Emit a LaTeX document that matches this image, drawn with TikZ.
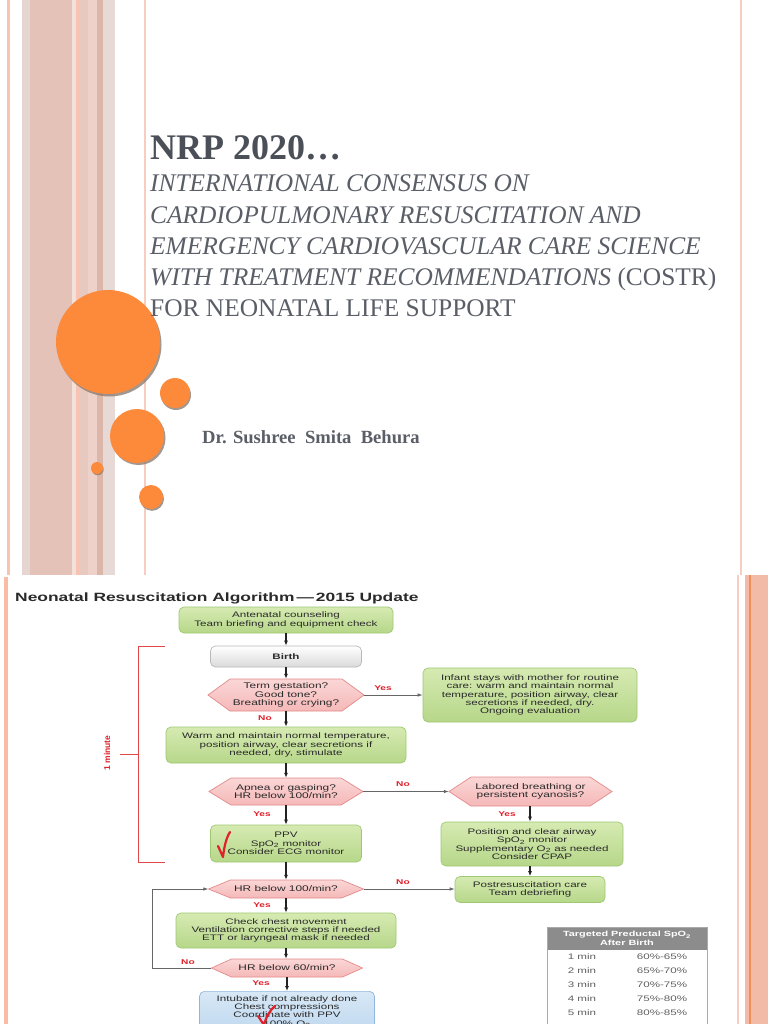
\documentclass[tikz,border=0pt]{standalone}
\usepackage{fontspec}
\setmainfont{Liberation Serif}
\newfontfamily\flow[FakeStretch=1.45]{Liberation Sans}
\newfontfamily\flowplain{Liberation Sans}
\usetikzlibrary{arrows.meta,calc}
\definecolor{stripeA}{HTML}{F8C3B0}
\definecolor{bandA}{HTML}{E6D6D1}
\definecolor{bandB}{HTML}{E4C2B7}
\definecolor{bandC}{HTML}{F3E1DA}
\definecolor{bandD}{HTML}{F7C4B4}
\definecolor{bandE}{HTML}{E8C9C0}
\definecolor{bandF}{HTML}{EED2C9}
\definecolor{bandG}{HTML}{DDB6AA}
\definecolor{bandH}{HTML}{E7D9D5}
\definecolor{paleline}{HTML}{F6CDBF}
\definecolor{salm}{HTML}{F1BBA7}
\definecolor{salmbar}{HTML}{FBBCA6}
\definecolor{orline}{HTML}{F08E5C}
\definecolor{circ}{HTML}{FD8A3A}
\definecolor{circsh}{HTML}{8C7D74}
\definecolor{titlec}{HTML}{4B4F58}
\definecolor{subc}{HTML}{5A5E67}
\definecolor{txt}{HTML}{2A2A2A}
\definecolor{grnb}{HTML}{9FC873}
\definecolor{grnt}{HTML}{D6EAB2}
\definecolor{grnbot}{HTML}{B6D789}
\definecolor{grayb}{HTML}{B8B8B8}
\definecolor{grayf}{HTML}{DADADA}
\definecolor{blueb}{HTML}{8FB6DC}
\definecolor{bluet}{HTML}{D8E8F6}
\definecolor{bluebot}{HTML}{BFD8EF}
\definecolor{hexb}{HTML}{E48A8A}
\definecolor{hext}{HTML}{FBD6D6}
\definecolor{hexbot}{HTML}{F5B8B8}
\definecolor{redl}{HTML}{E0202A}
\definecolor{brk}{HTML}{E04848}
\definecolor{arrowdark}{HTML}{222222}
\definecolor{arrowgray}{HTML}{666666}
\definecolor{tabhead}{HTML}{8C8C8C}
\definecolor{tabline}{HTML}{AAAAAA}
\definecolor{tabtxt}{HTML}{606060}
\newcommand{\hexnode}[7]{%
  \draw[hexline] ({#2-#4/2},#3) -- ({#2-#4/2+#6},{#3-#5/2}) -- ({#2+#4/2-#6},{#3-#5/2}) -- ({#2+#4/2},#3) -- ({#2+#4/2-#6},{#3+#5/2}) -- ({#2-#4/2+#6},{#3+#5/2}) -- cycle;
  \node[hextext, minimum width=#4, minimum height=#5] (#1) at (#2,#3) {#7};
}
\begin{document}
\begin{tikzpicture}[x=1pt,y=-1pt,
  box/.style={rounded corners=5pt, line width=0.7pt, align=center, inner sep=0pt, font=\flow\fontsize{8}{8.3}\selectfont, text=txt},
  greenbox/.style={box, draw=grnb, top color=grnt, bottom color=grnbot},
  graybox/.style={box, draw=grayb, top color=white, bottom color=grayf},
  bluebox/.style={box, draw=blueb, top color=bluet, bottom color=bluebot},
  hexline/.style={draw=hexb, line width=0.7pt, top color=hext, bottom color=hexbot},
  hextext/.style={align=center, inner sep=0pt, font=\flow\fontsize{8.2}{8.4}\selectfont, text=txt},
  lbl/.style={font=\flow\bfseries\fontsize{7}{8}\selectfont, text=redl, inner sep=0pt},
  varrow/.style={-{Latex[length=5pt,width=4pt]}, line width=1.1pt, draw=arrowdark},
  harrow/.style={-{Latex[length=5pt,width=3.5pt]}, line width=0.7pt, draw=arrowgray},
  checkm/.style={draw=redl, line width=2.2pt, line cap=round, line join=round},
  tabt/.style={font=\flow\fontsize{8}{9}\selectfont, text=tabtxt, inner sep=0pt},
  orb/.style={fill=circ},
  orbsh/.style={fill=circsh, opacity=0.8},
  titl/.style={anchor=base west, inner sep=0pt}
]
\useasboundingbox (0,0) rectangle (768,1024);
\fill[white] (0,0) rectangle (768,1024);
% ---------- top slide ----------
\fill[stripeA] (7,0) rectangle (10,575);
\fill[bandA] (22,0) rectangle (30,575);
\fill[bandB] (30,0) rectangle (72,575);
\fill[bandC] (72,0) rectangle (76,575);
\fill[bandD] (76,0) rectangle (80,575);
\fill[bandE] (80,0) rectangle (88,575);
\fill[bandF] (88,0) rectangle (97,575);
\fill[bandG] (97,0) rectangle (103,575);
\fill[bandH] (103,0) rectangle (115,575);
\fill[paleline] (144,0) rectangle (146,575);
\fill[paleline] (740,0) rectangle (741.5,575);
% circles
\fill[orbsh] (109.5,344.5) circle (52);
\fill[orb] (108,342) circle (52);
\fill[orbsh] (176,395) circle (15);
\fill[orb] (175,393) circle (15);
\fill[orbsh] (138.5,438) circle (27);
\fill[orb] (137,436) circle (27);
\fill[orbsh] (97.7,469.3) circle (6);
\fill[orb] (97,468) circle (6);
\fill[orbsh] (152,498.8) circle (12);
\fill[orb] (151,497) circle (12);
% title texts
\node[titl, text=titlec, font=\bfseries\fontsize{36}{40}\selectfont] (t0) at (150,160) {NRP 2020\ldots};
\node[titl, text=subc, font=\itshape\fontsize{25.4}{30}\selectfont] (t1) at (150,192) {INTERNATIONAL CONSENSUS ON};
\node[titl, text=subc, font=\itshape\fontsize{25.4}{30}\selectfont] (t2) at (150,223) {CARDIOPULMONARY RESUSCITATION AND};
\node[titl, text=subc, font=\itshape\fontsize{25.4}{30}\selectfont] (t3) at (150,254) {EMERGENCY CARDIOVASCULAR CARE SCIENCE};
\node[titl, text=subc, font=\fontsize{25.4}{30}\selectfont] (t4) at (150,285) {\textit{WITH TREATMENT RECOMMENDATIONS} (COSTR)};
\node[titl, text=subc, font=\fontsize{25.4}{30}\selectfont] (t5) at (150,316) {FOR NEONATAL LIFE SUPPORT};
\node[titl, text=subc, font=\bfseries\fontsize{18.6}{22}\selectfont] (author) at (202,443) {Dr. Sushree\ \ Smita\ \ Behura};
% ---------- bottom slide ----------
\fill[salmbar] (4,577) rectangle (8,1024);
\fill[paleline] (737,575) rectangle (738.5,1024);
\fill[salm] (745,575) rectangle (768,1024);
\fill[orline] (749,575) rectangle (751,1024);
\node[titl, font=\flow\bfseries\fontsize{12}{14}\selectfont, text=txt] (ftitle) at (15,601) {Neonatal Resuscitation Algorithm\,—\,2015 Update};
% main column
\node[greenbox, minimum width=214, minimum height=26] (ante) at (286,620) {Antenatal counseling\\Team briefing and equipment check};
\node[graybox, minimum width=151, minimum height=21, font=\flow\bfseries\fontsize{8}{8.3}\selectfont] (birth) at (286,656.5) {Birth};
\hexnode{h1}{286}{695}{156}{32}{22}{Term gestation?\\Good tone?\\Breathing or crying?}
\node[greenbox, minimum width=240, minimum height=36] (warm) at (286,745) {Warm and maintain normal temperature,\\position airway, clear secretions if\\needed, dry, stimulate};
\hexnode{h2}{286}{791.5}{154}{27}{22}{Apnea or gasping?\\HR below 100/min?}
\node[greenbox, minimum width=151, minimum height=37] (ppv) at (286,843.5) {PPV\\SpO\textsubscript{2} monitor\\Consider ECG monitor};
\hexnode{h4}{286}{889}{155}{18}{22}{HR below 100/min?}
\node[greenbox, minimum width=220, minimum height=35] (chk) at (286,930.5) {Check chest movement\\Ventilation corrective steps if needed\\ETT or laryngeal mask if needed};
\hexnode{h5}{287}{968}{151}{18}{20}{HR below 60/min?}
\node[bluebox, minimum width=175, inner ysep=4pt, anchor=north] (blue) at (287,991) {Intubate if not already done\\Chest compressions\\Coordinate with PPV\\100\% O\textsubscript{2}};
% right column
\node[greenbox, minimum width=214, minimum height=54] (infant) at (530,695) {Infant stays with mother for routine\\care: warm and maintain normal\\temperature, position airway, clear\\secretions if needed, dry.\\Ongoing evaluation};
\hexnode{h3}{530.5}{791.5}{163}{29}{22}{Labored breathing or\\persistent cyanosis?}
\node[greenbox, minimum width=182, minimum height=44] (pos) at (532,844) {Position and clear airway\\SpO\textsubscript{2} monitor\\Supplementary O\textsubscript{2} as needed\\Consider CPAP};
\node[greenbox, minimum width=150, minimum height=26] (post) at (530,889.5) {Postresuscitation care\\Team debriefing};
% vertical arrows
\draw[varrow] (ante.south) -- (birth.north);
\draw[varrow] (birth.south) -- (h1.north);
\draw[varrow] (h1.south) -- (warm.north);
\draw[varrow] (warm.south) -- (h2.north);
\draw[varrow] (h2.south) -- (ppv.north);
\draw[varrow] (ppv.south) -- (h4.north);
\draw[varrow] (h4.south) -- (chk.north);
\draw[varrow] (chk.south) -- (h5.north -| chk.south);
\draw[varrow] (h5.south) -- (blue.north);
\draw[varrow] (h3.south -| 530,0) -- (pos.north -| 530,0);
\draw[varrow] (pos.south -| 530,0) -- (post.north);
% horizontal arrows
\draw[harrow] (h1.east) -- (infant.west);
\draw[harrow] (h2.east) -- (h3.west);
\draw[harrow] (h4.east) -- (h4.east -| post.west);
\coordinate (lpA) at (152,968);
\coordinate (lpB) at (152,889);
\draw[harrow] (h5.west) -- (lpA) -- (lpB) -- (h4.west);
% labels
\node[lbl] (y1) at (383,688) {Yes};
\node[lbl] (n1) at (265,718) {No};
\node[lbl] (n2) at (403,784) {No};
\node[lbl] (y2) at (262,814) {Yes};
\node[lbl] (y3) at (507,814) {Yes};
\node[lbl] (n4) at (403,882) {No};
\node[lbl] (y4) at (262,905) {Yes};
\node[lbl] (n5) at (188,962) {No};
\node[lbl] (y5) at (261,983) {Yes};
% bracket
\coordinate (bA) at (165,646);
\coordinate (bB) at (138,646);
\coordinate (bC) at (138,862);
\coordinate (bD) at (165,862);
\coordinate (bT) at (120,754);
\coordinate (bM) at (138,754);
\draw[brk, line width=1pt] (bA) -- (bB) -- (bC) -- (bD);
\draw[brk, line width=1pt] (bT) -- (bM);
\node[rotate=90, font=\flowplain\bfseries\fontsize{8.5}{10}\selectfont, text=redl, inner sep=0pt] (onemin) at (107,753) {1 minute};
% check marks
\draw[checkm] (218,846) -- (223,857) .. controls (224,848) and (226,838) .. (230,832);
\draw[checkm] (258,1016) -- (264,1025) .. controls (266,1017) and (270,1010) .. (275,1006);
% table
\fill[white] (547,927) rectangle (707,1040);
\fill[tabhead] (547,927) rectangle (707,950);
\draw[tabline, line width=0.8pt] (547,927) rectangle (707,1040);
\node[font=\flow\bfseries\fontsize{7.5}{8.8}\selectfont, text=white, align=center, inner sep=0pt] (thead) at (627,938.5) {Targeted Preductal SpO\textsubscript{2}\\After Birth};
\node[tabt] (r1a) at (582,957) {1 min};
\node[tabt] (r1b) at (662,957) {60\%-65\%};
\node[tabt] (r2a) at (582,971) {2 min};
\node[tabt] (r2b) at (662,971) {65\%-70\%};
\node[tabt] (r3a) at (582,985) {3 min};
\node[tabt] (r3b) at (662,985) {70\%-75\%};
\node[tabt] (r4a) at (582,999) {4 min};
\node[tabt] (r4b) at (662,999) {75\%-80\%};
\node[tabt] (r5a) at (582,1013) {5 min};
\node[tabt] (r5b) at (662,1013) {80\%-85\%};
\end{tikzpicture}
\end{document}
